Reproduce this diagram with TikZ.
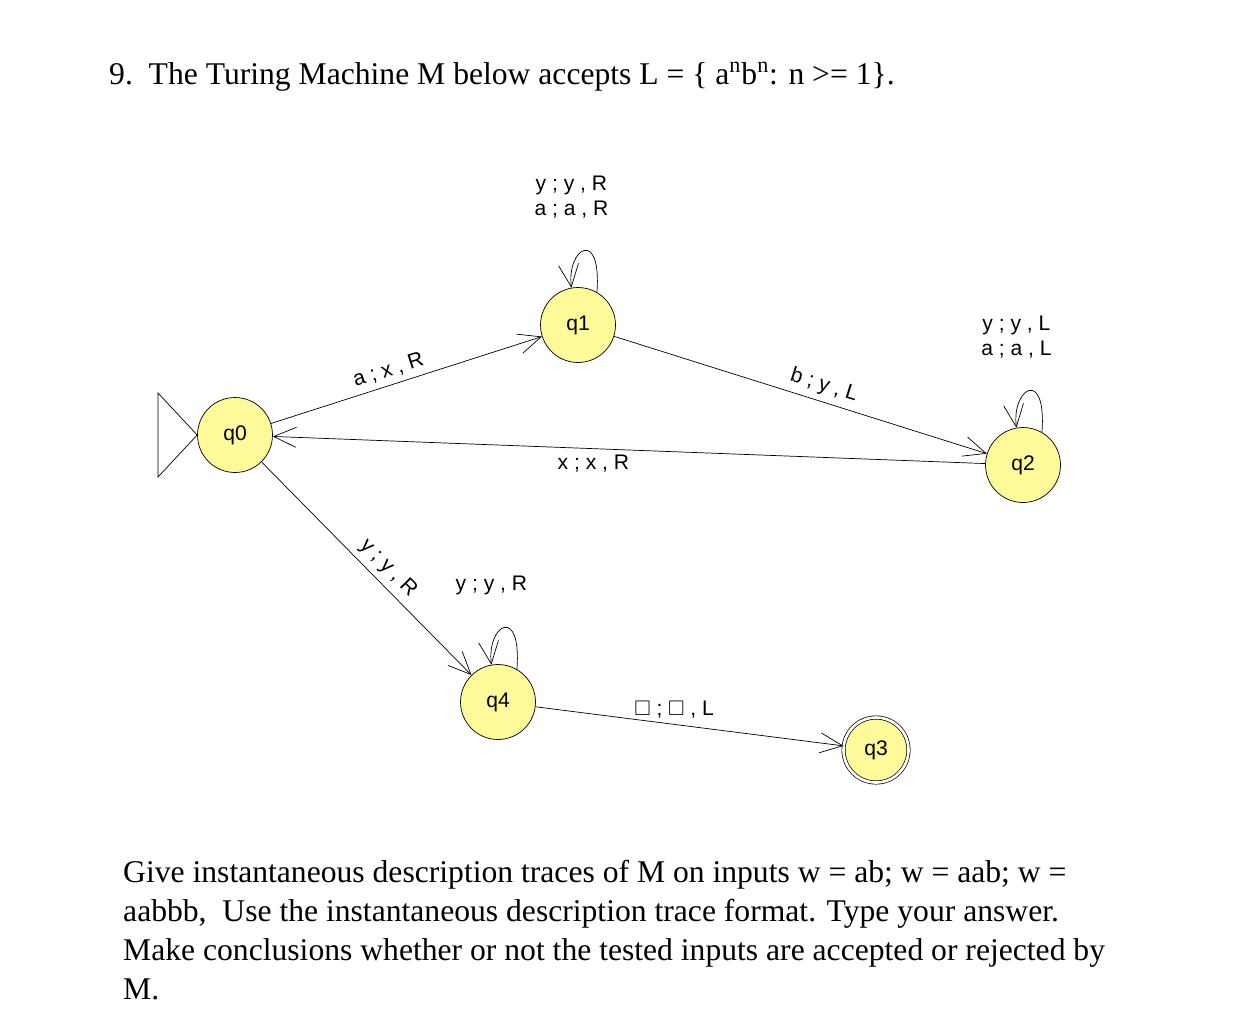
\documentclass[tikz,border=0pt]{standalone}
\usepackage{amssymb}
\usepackage{fontspec}
\setmainfont{Liberation Serif}
\newfontfamily\lblfont{Liberation Sans}
\usetikzlibrary{arrows.meta}
\usetikzlibrary{positioning}
\begin{document}
\begin{tikzpicture}[x=0.02cm,y=-0.02cm,
        >={Straight Barb[length=4.5mm,width=4mm]},
        state/.style = {circle,draw,fill=yellow!40,minimum size=1.5cm,
            inner sep=0pt,font=\lblfont\fontsize{12}{14}\selectfont},
        final/.style = {state,double,double distance=1.5pt,minimum size=1.3cm},
        lbl/.style = {font=\lblfont\fontsize{12}{14}\selectfont,align=center},
        para/.style = {anchor=base west,font=\fontsize{18}{22}\selectfont}]
    \useasboundingbox (0,0) rectangle (1247,1015);
    \node[para] (title) at (103,84) {9.\ \ The Turing Machine M below accepts L = \{ a\textsuperscript{n}b\textsuperscript{n}: n >= 1\}.};
    \node[state] (q0) at (235,435) {q0};
    \node[state] (q1) at (578,325) {q1};
    \node[state] (q2) at (1023,465) {q2};
    \node[state] (q4) at (498,702) {q4};
    \node[final] (q3) at (876,750) {q3};
    % start marker
    \draw (q0.west) -- (158,393) -- (158,477) -- cycle;
    \draw[->] (q0) -- node[lbl,sloped,above,pos=0.45] {a ; x , R} (q1);
    \draw[->] (q1) -- node[lbl,sloped,above,pos=0.55] {b ; y , L} (q2);
    \draw[->] (q2) -- node[lbl,below,pos=0.55] {x ; x , R} (q0);
    \draw[->] (q0) -- node[lbl,sloped,above,pos=0.55] {y ; y , R} (q4);
    \draw[->] (q4) -- node[lbl,above,pos=0.45] {$\square$ ; $\square$ , L} (q3);
    \draw[->] (q1.60) .. controls +(5,-65) and +(-5,-40) .. (q1.100)
        node[lbl,above=36pt] {y ; y , R\\a ; a , R};
    \draw[->] (q2.60) .. controls +(5,-65) and +(-5,-40) .. (q2.100)
        node[lbl,above=36pt] {y ; y , L\\a ; a , L};
    \draw[->] (q4.60) .. controls +(5,-65) and +(-5,-40) .. (q4.100)
        node[lbl,above=36pt] {y ; y , R};
    \node[para] (p1) at (117,882) {Give instantaneous description traces of M on inputs w = ab; w = aab; w =};
    \node[para] (p2) at (117,921) {aabbb,\ \ Use the instantaneous description trace format. Type your answer.};
    \node[para] (p3) at (117,960) {Make conclusions whether or not the tested inputs are accepted or rejected by};
    \node[para] (p4) at (117,999) {M.};
\end{tikzpicture}
\end{document}
